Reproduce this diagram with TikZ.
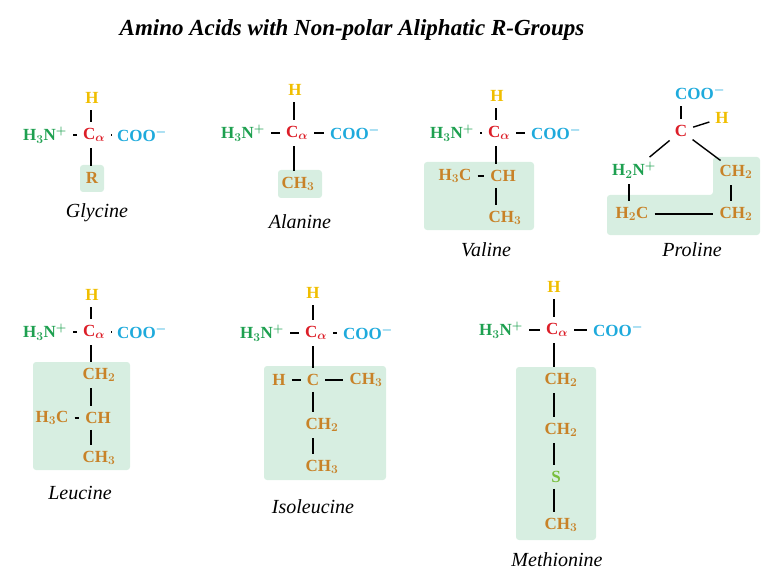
\documentclass[tikz,border=0pt]{standalone}
\usepackage{fontspec}
\setmainfont{Liberation Serif}
\begin{document}
\begin{tikzpicture}[x=1pt,y=-1pt,
  atm/.style={font=\fontsize{17}{19}\selectfont\bfseries\boldmath,inner sep=2pt},
  gN/.style={atm,text={rgb,255:red,30;green,160;blue,80}},
  rC/.style={atm,text={rgb,255:red,220;green,30;blue,40}},
  bC/.style={atm,text={rgb,255:red,30;green,170;blue,220}},
  yH/.style={atm,text={rgb,255:red,240;green,190;blue,0}},
  oR/.style={atm,text={rgb,255:red,200;green,130;blue,40}},
  sS/.style={atm,text={rgb,255:red,120;green,190;blue,60}},
  lab/.style={font=\fontsize{20}{22}\selectfont\itshape},
  bd/.style={draw=black,line width=1.4pt,shorten <=4pt,shorten >=4pt},
  rbox/.style={fill={rgb,255:red,215;green,238;blue,225},rounded corners=3pt}]
\useasboundingbox (0,0) rectangle (768,588);
\node[font=\fontsize{23}{25}\selectfont\bfseries\itshape] (title) at (352,30) {Amino Acids with Non-polar Aliphatic R-Groups};
% boxes
\fill[rbox] (80,165) rectangle (104,192);
\fill[rbox] (278,170) rectangle (322,198);
\fill[rbox] (424,162) rectangle (534,230);
\fill[rbox] (607,195) -- (607,235) -- (760,235) -- (760,157) -- (713,157) -- (713,195) -- cycle;
\fill[rbox] (33,362) rectangle (130,470);
\fill[rbox] (264,366) rectangle (386,480);
\fill[rbox] (516,367) rectangle (596,540);
% Glycine
\node[rC] (g1) at (94,135) {C$_\alpha$};
\node[yH] (g2) at (92,98) {H};
\node[gN] (g3) at (45,135) {H$_3$N$^+$};
\node[bC] (g4) at (142,135) {COO$^-$};
\node[oR] (g5) at (92,178) {R};
\node[lab] (gl) at (97,213) {Glycine};
\coordinate (gx) at (91,0);
\draw[bd] (gx|-g1.north)--(gx|-g2.south); \draw[bd] (g3)--(g1); \draw[bd] (g1)--(g4); \draw[bd] (gx|-g1.south)--(gx|-g5.north);
% Alanine
\node[rC] (a1) at (297,133) {C$_\alpha$};
\node[yH] (a2) at (295,90) {H};
\node[gN] (a3) at (243,133) {H$_3$N$^+$};
\node[bC] (a4) at (355,133) {COO$^-$};
\node[oR] (a5) at (298,184) {CH$_3$};
\node[lab] (al) at (300,222) {Alanine};
\coordinate (ax) at (294,0);
\draw[bd] (ax|-a1.north)--(ax|-a2.south); \draw[bd] (a3)--(a1); \draw[bd] (a1)--(a4); \draw[bd] (ax|-a1.south)--(ax|-a5.north);
% Valine
\node[rC] (v1) at (499,133) {C$_\alpha$};
\node[yH] (v2) at (497,96) {H};
\node[gN] (v3) at (452,133) {H$_3$N$^+$};
\node[bC] (v4) at (556,133) {COO$^-$};
\node[oR] (v5) at (503,176) {CH};
\node[oR] (v6) at (455,176) {H$_3$C};
\node[oR] (v7) at (505,218) {CH$_3$};
\node[lab] (vl) at (486,250) {Valine};
\coordinate (vx) at (496,0);
\draw[bd] (vx|-v1.north)--(vx|-v2.south); \draw[bd] (v3)--(v1); \draw[bd] (v1)--(v4);
\draw[bd] (vx|-v1.south)--(vx|-v5.north);
\draw[bd] (v6)--(v5); \draw[bd] (vx|-v5.south)--(vx|-v7.north);
% Proline
\node[bC] (p1) at (700,93) {COO$^-$};
\node[rC] (p2) at (681,131) {C};
\node[yH] (p3) at (722,118) {H};
\node[gN] (p4) at (634,170) {H$_2$N$^+$};
\node[oR] (p5) at (736,172) {CH$_2$};
\node[oR] (p6) at (632,214) {H$_2$C};
\node[oR] (p7) at (736,214) {CH$_2$};
\node[lab] (pl) at (692,250) {Proline};
\coordinate (px) at (629,0);
\coordinate (py) at (731,0);
\draw[bd] (p2)--(p2|-p1.south); \draw[bd] (p2)--(p3); \draw[bd] (p2)--(p4); \draw[bd] (p2)--(p5);
\draw[bd] (px|-p4.south)--(px|-p6.north);
\draw[bd] (p6)--(p7); \draw[bd] (py|-p5.south)--(py|-p7.north);
% Leucine
\node[rC] (l1) at (94,332) {C$_\alpha$};
\node[yH] (l2) at (92,295) {H};
\node[gN] (l3) at (45,332) {H$_3$N$^+$};
\node[bC] (l4) at (142,332) {COO$^-$};
\node[oR] (l5) at (99,375) {CH$_2$};
\node[oR] (l6) at (98,418) {CH};
\node[oR] (l7) at (52,418) {H$_3$C};
\node[oR] (l8) at (99,458) {CH$_3$};
\node[lab] (ll) at (80,493) {Leucine};
\coordinate (lx) at (91,0);
\draw[bd] (lx|-l1.north)--(lx|-l2.south); \draw[bd] (l3)--(l1); \draw[bd] (l1)--(l4);
\draw[bd] (lx|-l1.south)--(lx|-l5.north); \draw[bd] (lx|-l5.south)--(lx|-l6.north);
\draw[bd] (l7)--(l6); \draw[bd] (lx|-l6.south)--(lx|-l8.north);
% Isoleucine
\node[rC] (i1) at (316,333) {C$_\alpha$};
\node[yH] (i2) at (313,293) {H};
\node[gN] (i3) at (262,333) {H$_3$N$^+$};
\node[bC] (i4) at (368,333) {COO$^-$};
\node[oR] (i5) at (279,380) {H};
\node[oR] (i6) at (313,380) {C};
\node[oR] (i7) at (366,380) {CH$_3$};
\node[oR] (i8) at (322,425) {CH$_2$};
\node[oR] (i9) at (322,467) {CH$_3$};
\node[lab] (il) at (313,507) {Isoleucine};
\coordinate (ix) at (313,0);
\draw[bd] (ix|-i1.north)--(ix|-i2.south); \draw[bd] (i3)--(i1); \draw[bd] (i1)--(i4);
\draw[bd] (ix|-i1.south)--(ix|-i6.north); \draw[bd] (i5)--(i6); \draw[bd] (i6)--(i7);
\draw[bd] (ix|-i6.south)--(ix|-i8.north); \draw[bd] (ix|-i8.south)--(ix|-i9.north);
% Methionine
\node[rC] (m1) at (557,330) {C$_\alpha$};
\node[yH] (m2) at (554,287) {H};
\node[gN] (m3) at (501,330) {H$_3$N$^+$};
\node[bC] (m4) at (618,330) {COO$^-$};
\node[oR] (m5) at (561,380) {CH$_2$};
\node[oR] (m6) at (561,430) {CH$_2$};
\node[sS] (m7) at (556,477) {S};
\node[oR] (m8) at (561,525) {CH$_3$};
\node[lab] (ml) at (557,560) {Methionine};
\coordinate (mx) at (554,0);
\draw[bd] (mx|-m1.north)--(mx|-m2.south); \draw[bd] (m3)--(m1); \draw[bd] (m1)--(m4);
\draw[bd] (mx|-m1.south)--(mx|-m5.north); \draw[bd] (mx|-m5.south)--(mx|-m6.north);
\draw[bd] (mx|-m6.south)--(mx|-m7.north); \draw[bd] (mx|-m7.south)--(mx|-m8.north);
\end{tikzpicture}
\end{document}
